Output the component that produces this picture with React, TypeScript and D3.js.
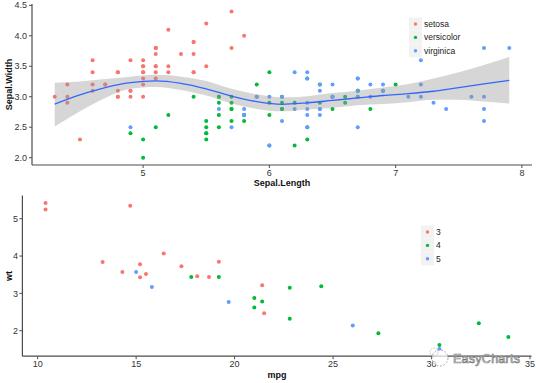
import React from "react";
import * as d3 from "d3";

// ---------- iris ----------
const species = ["setosa", "versicolor", "virginica"];
const sepalLength = [
  5.1,4.9,4.7,4.6,5.0,5.4,4.6,5.0,4.4,4.9,5.4,4.8,4.8,4.3,5.8,5.7,5.4,5.1,5.7,5.1,5.4,5.1,4.6,5.1,4.8,5.0,5.0,5.2,5.2,4.7,4.8,5.4,5.2,5.5,4.9,5.0,5.5,4.9,4.4,5.1,5.0,4.5,4.4,5.0,5.1,4.8,5.1,4.6,5.3,5.0,
  7.0,6.4,6.9,5.5,6.5,5.7,6.3,4.9,6.6,5.2,5.0,5.9,6.0,6.1,5.6,6.7,5.6,5.8,6.2,5.6,5.9,6.1,6.3,6.1,6.4,6.6,6.8,6.7,6.0,5.7,5.5,5.5,5.8,6.0,5.4,6.0,6.7,6.3,5.6,5.5,5.5,6.1,5.8,5.0,5.6,5.7,5.7,6.2,5.1,5.7,
  6.3,5.8,7.1,6.3,6.5,7.6,4.9,7.3,6.7,7.2,6.5,6.4,6.8,5.7,5.8,6.4,6.5,7.7,7.7,6.0,6.9,5.6,7.7,6.3,6.7,7.2,6.2,6.1,6.4,7.2,7.4,7.9,6.4,6.3,6.1,7.7,6.3,6.4,6.0,6.9,6.7,6.9,5.8,6.8,6.7,6.7,6.3,6.5,6.2,5.9,
];
const sepalWidth = [
  3.5,3.0,3.2,3.1,3.6,3.9,3.4,3.4,2.9,3.1,3.7,3.4,3.0,3.0,4.0,4.4,3.9,3.5,3.8,3.8,3.4,3.7,3.6,3.3,3.4,3.0,3.4,3.5,3.4,3.2,3.1,3.4,4.1,4.2,3.1,3.2,3.5,3.6,3.0,3.4,3.5,2.3,3.2,3.5,3.8,3.0,3.8,3.2,3.7,3.3,
  3.2,3.2,3.1,2.3,2.8,2.8,3.3,2.4,2.9,2.7,2.0,3.0,2.2,2.9,2.9,3.1,3.0,2.7,2.2,2.5,3.2,2.8,2.5,2.8,2.9,3.0,2.8,3.0,2.9,2.6,2.4,2.4,2.7,2.7,3.0,3.4,3.1,2.3,3.0,2.5,2.6,3.0,2.6,2.3,2.7,3.0,2.9,2.9,2.5,2.8,
  3.3,2.7,3.0,2.9,3.0,3.0,2.5,2.9,2.5,3.6,3.2,2.7,3.0,2.5,2.8,3.2,3.0,3.8,2.6,2.2,3.2,2.8,2.8,2.7,3.3,3.2,2.8,3.0,2.8,3.0,2.8,3.8,2.8,2.8,2.6,3.0,3.4,3.1,3.0,3.1,3.1,3.1,2.7,3.2,3.3,3.0,2.5,3.0,3.4,3.0,
];
// loess fit
const loessX = [4.3,4.5,4.7,4.9,5.1,5.3,5.5,5.7,5.9,6.1,6.3,6.5,6.7,6.9,7.1,7.3,7.5,7.7,7.9];
const loessFit = [2.88,3.03,3.15,3.23,3.26,3.22,3.13,3.01,2.92,2.875,2.90,2.94,2.98,3.02,3.05,3.09,3.15,3.21,3.27];
const loessLo = [2.51,2.76,2.98,3.13,3.16,3.11,3.02,2.89,2.80,2.76,2.79,2.82,2.86,2.88,2.91,2.95,2.95,2.92,2.89];
const loessHi = [3.23,3.25,3.29,3.33,3.36,3.33,3.26,3.13,3.04,2.99,3.01,3.06,3.10,3.15,3.21,3.30,3.40,3.52,3.65];
const irisXTicks = [5, 6, 7, 8];
const irisYTicks = [2.0, 2.5, 3.0, 3.5, 4.0, 4.5];

// ---------- mtcars ----------
const gears = ["3", "4", "5"];
const mpg = [21.0,21.0,22.8,21.4,18.7,18.1,14.3,24.4,22.8,19.2,17.8,16.4,17.3,15.2,10.4,10.4,14.7,32.4,30.4,33.9,21.5,15.5,15.2,13.3,19.2,27.3,26.0,30.4,15.8,19.7,15.0,21.4];
const wt = [2.620,2.875,2.320,3.215,3.440,3.460,3.570,3.190,3.150,3.440,3.440,4.070,3.730,3.780,5.250,5.424,5.345,2.200,1.615,1.835,2.465,3.520,3.435,3.840,3.845,1.935,2.140,1.513,3.170,2.770,3.570,2.780];
const gear = [4,4,4,3,3,3,3,4,4,4,4,3,3,3,3,3,3,4,4,4,3,3,3,3,3,4,5,5,5,5,5,4];
const carXTicks = [10, 15, 20, 25, 30, 35];
const carYTicks = [2, 3, 4, 5];

const colors = ["#F8766D", "#00BA38", "#619CFF"];
const FONT = "'Liberation Sans', Arial, sans-serif";
const AXIS = "#4d4d4d";
const TICKTXT = "#333333";

export default function App() {
  // top panel scales
  const x1 = d3.scaleLinear().domain([4.12, 8.08]).range([32, 532]);
  const y1 = d3.scaleLinear().domain([1.88, 4.52]).range([165, 4.1]);
  // bottom panel scales
  const x2 = d3.scaleLinear().domain([9.225, 35.075]).range([22.4, 531.5]);
  const y2 = d3.scaleLinear().domain([1.3175, 5.6195]).range([356.2, 195.6]);

  const loessPts = loessX.map((x, i) => ({ x, y: loessFit[i], lo: loessLo[i], hi: loessHi[i] }));
  const area = d3
    .area<any>()
    .curve(d3.curveMonotoneX)
    .x((d) => x1(d.x))
    .y0((d) => y1(d.lo))
    .y1((d) => y1(d.hi));
  const line = d3
    .line<any>()
    .curve(d3.curveMonotoneX)
    .x((d) => x1(d.x))
    .y((d) => y1(d.y));

  const spIdx = (i: number) => Math.floor(i / 50);

  return (
    <svg
      width={536}
      height={383}
      style={{ position: "absolute", left: 0, top: 0, background: "#fff" }}
      fontFamily={FONT}
    >
      {/* ===== Top panel ===== */}
      <g>
        {sepalLength.map((sl, i) => (
          <circle key={i} cx={x1(sl)} cy={y1(sepalWidth[i])} r={2} fill={colors[spIdx(i)]} />
        ))}
        <path d={area(loessPts) || ""} fill="#999999" fillOpacity={0.4} />
        <path d={line(loessPts) || ""} fill="none" stroke="#3366FF" strokeWidth={1.3} />
        {/* axes */}
        <line x1={32} x2={32} y1={4.1} y2={165} stroke={AXIS} strokeWidth={1.2} />
        <line x1={32} x2={532} y1={165} y2={165} stroke={AXIS} strokeWidth={1.2} />
        {irisYTicks.map((t) => (
          <g key={t}>
            <line x1={29} x2={32} y1={y1(t)} y2={y1(t)} stroke={AXIS} strokeWidth={1} />
            <text x={27} y={y1(t)} dy="0.35em" textAnchor="end" fontSize={9} fill={TICKTXT}>
              {t.toFixed(1)}
            </text>
          </g>
        ))}
        {irisXTicks.map((t) => (
          <g key={t}>
            <line x1={x1(t)} x2={x1(t)} y1={165} y2={168} stroke={AXIS} strokeWidth={1} />
            <text x={x1(t)} y={176} textAnchor="middle" fontSize={9} fill={TICKTXT}>
              {t}
            </text>
          </g>
        ))}
        <text x={282} y={186} textAnchor="middle" fontSize={9} fontWeight="bold" fill="#111">
          Sepal.Length
        </text>
        <text
          transform={`translate(12,${(4.1 + 165) / 2}) rotate(-90)`}
          textAnchor="middle"
          fontSize={9}
          fontWeight="bold"
          fill="#111"
        >
          Sepal.Width
        </text>
        {/* legend */}
        {species.map((s, i) => (
          <g key={s} transform={`translate(409,${17.5 + i * 13.4})`}>
            <rect x={0} y={0} width={13} height={13} fill="#F2F2F2" />
            <circle cx={6.5} cy={6.5} r={1.7} fill={colors[i]} />
            <text x={15} y={6.5} dy="0.35em" fontSize={8.5} fill="#222">
              {s}
            </text>
          </g>
        ))}
      </g>

      {/* ===== Bottom panel ===== */}
      <g>
        {mpg.map((m, i) => (
          <circle key={i} cx={x2(m)} cy={y2(wt[i])} r={2} fill={colors[gear[i] - 3]} />
        ))}
        <line x1={22.4} x2={22.4} y1={195.6} y2={356.2} stroke={AXIS} strokeWidth={1.2} />
        <line x1={22.4} x2={531.5} y1={356.2} y2={356.2} stroke={AXIS} strokeWidth={1.2} />
        {carYTicks.map((t) => (
          <g key={t}>
            <line x1={19.4} x2={22.4} y1={y2(t)} y2={y2(t)} stroke={AXIS} strokeWidth={1} />
            <text x={18} y={y2(t)} dy="0.35em" textAnchor="end" fontSize={9} fill={TICKTXT}>
              {t}
            </text>
          </g>
        ))}
        {carXTicks.map((t) => (
          <g key={t}>
            <line x1={x2(t)} x2={x2(t)} y1={356.2} y2={359.2} stroke={AXIS} strokeWidth={1} />
            <text x={x2(t)} y={367} textAnchor="middle" fontSize={9} fill={TICKTXT}>
              {t}
            </text>
          </g>
        ))}
        <text x={277} y={378} textAnchor="middle" fontSize={9} fontWeight="bold" fill="#111">
          mpg
        </text>
        <text
          transform={`translate(12,${(195.6 + 356.2) / 2}) rotate(-90)`}
          textAnchor="middle"
          fontSize={9}
          fontWeight="bold"
          fill="#111"
        >
          wt
        </text>
        {gears.map((g, i) => (
          <g key={g} transform={`translate(421,${225.5 + i * 13.4})`}>
            <rect x={0} y={0} width={13} height={13} fill="#F2F2F2" />
            <circle cx={6.5} cy={6.5} r={1.7} fill={colors[i]} />
            <text x={15} y={6.5} dy="0.35em" fontSize={8.5} fill="#222">
              {g}
            </text>
          </g>
        ))}
      </g>

      {/* watermark */}
      <g>
        <circle cx={440} cy={358} r={8} fill="#fff" fillOpacity={0.7} stroke="#999" strokeWidth={0.8} strokeDasharray="2 1.5" />
        <circle cx={434} cy={352} r={4} fill="none" stroke="#aaa" strokeWidth={0.7} strokeDasharray="1.5 1" />
        <text x={453} y={363} fontSize={12.5} fill="#ffffff" stroke="#777" strokeWidth={0.7} fontFamily={FONT} textLength={67}>
          EasyCharts
        </text>
      </g>
    </svg>
  );
}
